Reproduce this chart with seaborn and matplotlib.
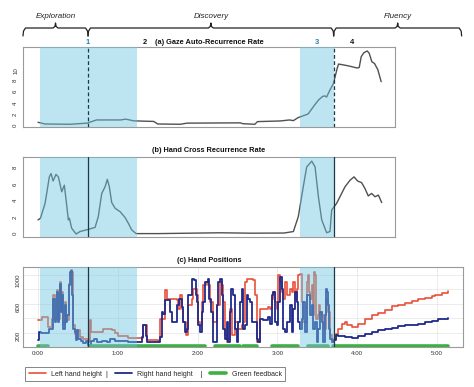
import matplotlib
matplotlib.use('Agg')
import matplotlib.pyplot as plt
import matplotlib.transforms as mtransforms
import seaborn as sns

sns.set_style('white')
plt.rcParams['font.family'] = ['Liberation Sans', 'DejaVu Sans']

# ---- data (time in seconds) ----
gaze_t = [0, 5.3, 24, 37, 40, 44, 62, 66, 72, 87, 90, 107, 112, 152, 154, 163, 165, 182, 189, 192,
          195.5, 203, 208, 211, 214, 215.5, 217, 219.5, 222, 225, 226, 233, 240, 241.5, 243, 245,
          247.5, 249, 251, 253, 255.5, 258]
gaze_rr = [0.65, 0.35, 0.3, 0.5, 0.75, 1.06, 1.06, 1.2, 0.9, 0.8, 0.35, 0.3, 0.5, 0.55, 0.4, 0.3, 0.77,
           0.88, 1.06, 0.94, 1.47, 2.1, 3.7, 4.6, 5.2, 5.3, 5.1, 6.35, 7.4, 10.2, 10.9, 10.6, 10.2,
           10.3, 12.2, 12.9, 13.2, 12.8, 11.3, 11.0, 9.9, 7.8]

cross_t = [0, 1.8, 5.3, 8.5, 9.8, 11.3, 13.5, 15.3, 17.8, 19.8, 21.1, 22.8, 23.6, 25.3, 28.6, 31.6,
           37.8, 42.9, 45.3, 47.9, 50.4, 52.1, 53.6, 55.4, 58, 61.7, 65.4, 67.9, 70.4, 73.7, 90, 137,
           160, 185, 192, 195.7, 199, 202, 205.8, 208.3, 210.8, 213.3, 217, 219.5, 220.8, 224.5,
           230.8, 234.6, 237.6, 240.3, 243.3, 245.8, 248.3, 250.8, 253.4, 255.9, 258.4]
cross_rr = [1.7, 1.9, 3.7, 6.9, 7.3, 6.4, 7.2, 6.9, 5.1, 5.9, 4.1, 1.7, 1.9, 0.7, 0.0, 0.3, 0.56, 0.8,
            2.1, 4.9, 5.7, 6.6, 5.7, 3.8, 3.1, 2.7, 2.0, 1.3, 0.5, 0.05, 0.05, 0.15, 0.1, 0.12, 0.3,
            2.1, 5.3, 8.1, 8.8, 8.1, 4.5, 1.7, 0.16, 0.3, 2.9, 3.7, 5.7, 6.5, 6.9, 6.4, 6.2, 5.5, 4.6,
            4.9, 4.5, 4.7, 3.8]

left_t = [0.25, 2, 2.8, 6.5, 7.3, 8.5, 10.3, 11.5, 12.5, 14, 14.8, 16.3, 17, 18, 19, 20, 21, 23, 24.6,
          25.6, 26.5, 28, 29.6, 31.6, 34, 36.6, 38.1, 39.1, 40.1, 47.9, 48.6, 55.4, 57.9, 60.4, 67.9,
          77.4, 79.2, 80.5, 81.8, 90.5, 91.7, 94.2, 95.5, 96.7, 104.3, 105.5, 106.8, 108, 109.3, 111,
          113, 115.5, 116.8, 119.3, 120.5, 121.8, 123, 124.3, 126, 128, 129.3, 131.8, 134.3, 136.8,
          138.1, 139.3, 140.6, 141.8, 143.1, 144.4, 145.6, 148.1, 150.6, 153.1, 154.4, 155.6, 156.9,
          161.9, 163.2, 164.4, 166.9, 173.2, 174.4, 175.7, 176.9, 178.2, 179.4, 180.7, 181.9, 183.2,
          184.5, 185.7, 187, 189.5, 190.7, 192, 193.2, 194.5, 195.7, 197, 198.2, 199.5, 202, 202.8,
          203.8, 204.8, 205.8, 207, 207.8, 208.5, 209.3, 210.3, 211.3, 212.3, 213.8, 214.8, 216.3,
          217.8, 219.3, 221.3, 222.8, 223.8, 225.8, 228.3, 230.8, 232, 235.8, 240.9, 245.9, 250.9,
          255.9, 260.9, 265.9, 270.9, 275.9, 280.9, 285.9, 290.9, 295.9, 298.4, 303.4, 307.9]
left_h = [371, 371, 417, 417, 278, 278, 394, 718, 394, 788, 394, 903, 532, 764, 301, 625, 371, 880,
          1066, 1042, 301, 185, 232, 139, 116, 106, 69, 371, 208, 208, 255, 232, 199, 153, 125, 125,
          301, 301, 93, 79, 394, 394, 788, 671, 648, 532, 718, 532, 347, 162, 579, 671, 810, 718, 347,
          301, 625, 857, 903, 857, 625, 347, 579, 903, 857, 625, 162, 69, 116, 532, 162, 347, 255, 301,
          347, 903, 949, 926, 718, 69, 532, 556, 532, 671, 764, 625, 532, 996, 903, 764, 671, 903, 718,
          810, 764, 903, 671, 810, 996, 1019, 625, 347, 903, 996, 764, 671, 857, 440, 1042, 996, 394,
          440, 579, 486, 440, 255, 671, 486, 162, 93, 116, 185, 255, 324, 347, 310, 278, 324, 394, 440,
          477, 519, 565, 588, 611, 635, 662, 681, 704, 727, 755, 774]

right_t = [0.25, 1, 2, 7.8, 8.5, 10.3, 11, 11.5, 12.5, 13.3, 14, 14.8, 15.5, 16.3, 17, 18, 19, 20, 21,
           22, 23, 24, 25, 25.8, 26.5, 27.5, 28.6, 29.3, 30.3, 32, 34, 36, 37.6, 39.6, 42, 44.6, 47.9,
           51.6, 54, 57.9, 62.9, 67.9, 76.7, 77.9, 79.2, 80.5, 81.2, 82.2, 90.5, 91.5, 93, 94.2, 95.5,
           98, 99.5, 101, 103, 104.3, 106, 108, 109.3, 110.5, 111.8, 112.5, 114.5, 116, 117.5, 118.5,
           119.5, 120.5, 121.8, 123, 124.3, 125.5, 127.5, 128.8, 130, 131.8, 133.1, 134.3, 135.6,
           136.8, 138.1, 139.3, 140.6, 141.8, 143.1, 144.4, 145.1, 146.9, 148.1, 149.4, 150.6, 151.9,
           153.1, 154.4, 155.6, 156.9, 158.2, 159.4, 160.7, 163.2, 164.4, 165.7, 166.9, 169.4, 173.2,
           174.4, 175.7, 176.9, 178.2, 179.4, 180.7, 181.9, 183.2, 184.5, 185.7, 187, 189.5, 190.7,
           192, 193.2, 194.5, 195.7, 197, 198.2, 199.5, 200.8, 202, 203.3, 204.5, 205.8, 207, 208.3,
           209.5, 210.8, 212, 213.3, 214.5, 215.8, 216.3, 217.3, 218.1, 218.8, 219.8, 221.3, 222.8,
           223.8, 225.8, 230.8, 235.8, 240.9, 245.9, 250.9, 255.9, 260.9, 265.9, 270.9, 275.9, 280.9,
           285.9, 290.9, 295.9, 300.9, 307.9]
right_h = [93, 208, 199, 199, 255, 255, 486, 671, 347, 394, 764, 347, 532, 880, 486, 718, 255, 579,
           347, 440, 857, 1042, 1051, 718, 255, 208, 93, 232, 116, 79, 60, 88, 32, 79, 106, 69, 88, 69,
           106, 79, 88, 69, 69, 139, 301, 301, 153, 69, 69, 139, 486, 463, 648, 648, 486, 347, 347, 579,
           671, 556, 347, 208, 255, 718, 718, 949, 926, 718, 625, 301, 208, 486, 625, 903, 949, 671,
           486, 69, 69, 579, 903, 949, 718, 255, 116, 347, 69, 486, 810, 718, 255, 69, 347, 625, 810,
           255, 301, 718, 671, 625, 347, 347, 116, 69, 394, 371, 417, 324, 718, 764, 347, 301, 625,
           973, 810, 255, 208, 347, 579, 208, 532, 764, 625, 347, 255, 394, 625, 208, 718, 718, 440,
           579, 255, 347, 69, 255, 486, 347, 69, 440, 810, 764, 579, 255, 116, 69, 93, 171, 153, 139,
           125, 153, 185, 208, 232, 255, 264, 287, 301, 310, 324, 347, 357, 384, 403]

feedback_start = [0, 38, 133, 154, 176, 203, 222]
feedback_end = [7.5, 125.5, 152, 165, 195.5, 218, 308]
feedback_level = 18

insight_spans = [(1.5, 74.4), (197, 222.5)]
phase_marks = [37.6, 222.3]
phase_names = ['Exploration', 'Discovery', 'Fluency']
phase_edges = [-11.3, 37.6, 222.3, 318.5]
event_labels = ['1', '2', '3', '4']
event_t = [37.6, 80.5, 209.8, 236]
event_colors = ['#2f7fa6', '#111111', '#2f7fa6', '#111111']

time_ticks = [0, 60, 120, 180, 240, 300]
time_labels = ['0:00', '1:00', '2:00', '3:00', '4:00', '5:00']

# ---- layout ----
W, H = 474, 387
fig = plt.figure(figsize=(W / 100, H / 100), dpi=100)
ax_a = fig.add_axes([23 / W, 1 - 127 / H, 372 / W, 80 / H])
ax_b = fig.add_axes([23 / W, 1 - 237 / H, 372 / W, 80 / H])
ax_c = fig.add_axes([23 / W, 1 - 347 / H, 440 / W, 80 / H])

shade = '#6ec6e0'
mark_col = '#1d3946'
line_col = '#505050'

sns.lineplot(x=gaze_t, y=gaze_rr, ax=ax_a, color=line_col, lw=1.0, estimator=None, sort=False)
sns.lineplot(x=cross_t, y=cross_rr, ax=ax_b, color=line_col, lw=1.0, estimator=None, sort=False)
sns.lineplot(x=left_t, y=left_h, ax=ax_c, color='#e8503a', lw=1.2, estimator=None, sort=False,
             drawstyle='steps-post', label='Left hand height  |')
sns.lineplot(x=right_t, y=right_h, ax=ax_c, color='#1f2a8c', lw=1.3, estimator=None, sort=False,
             drawstyle='steps-post', label='Right hand height    |')
for i, (s, e) in enumerate(zip(feedback_start, feedback_end)):
    sns.lineplot(x=[s, e], y=[feedback_level, feedback_level], ax=ax_c, color='#3cb043', lw=2.6,
                 estimator=None, sort=False, label='Green feedback' if i == 0 else None)

for ax in (ax_a, ax_b, ax_c):
    for s, e in insight_spans:
        ax.axvspan(s, e, color=shade, alpha=0.45, lw=0, zorder=5)
    for sp in ax.spines.values():
        sp.set_color('#9a9a9a')
        sp.set_linewidth(0.8)
    ax.set_xlabel('')
    ax.set_ylabel('')
    ax.tick_params(axis='both', labelsize=4.4, length=2, width=0.5, pad=1.5, colors='#333333')
    ax.tick_params(axis='y', labelrotation=90)

for m in phase_marks:
    ax_a.axvline(m, color=mark_col, lw=0.9, ls=(0, (3, 2)), zorder=6)
for ax in (ax_b, ax_c):
    for m in phase_marks:
        ax.axvline(m, color=mark_col, lw=0.9, zorder=6)

ax_a.set_xlim(-11.3, 268.4)
ax_b.set_xlim(-11.3, 268.4)
ax_c.set_xlim(-11.3, 319.5)
ax_a.set_ylim(-0.18, 13.9)
ax_b.set_ylim(-0.36, 9.3)
ax_c.set_ylim(0, 1112)

ax_a.set_yticks([0, 2, 4, 6, 8, 10, 12])
ax_a.set_yticklabels(['0', '2', '4', '6', '8', '10', ''])
ax_b.set_yticks([0, 2, 4, 6, 8])
for ax in (ax_a, ax_b):
    ax.set_xticks(time_ticks[:5])
    ax.set_xticklabels([])
ax_c.set_xticks(time_ticks)
ax_c.set_xticklabels(time_labels)
ax_c.tick_params(axis='x', length=0, pad=3)
ax_c.tick_params(axis='y', length=0)
ax_c.set_yticks([200, 400, 600, 800, 1000])
ax_c.set_yticklabels(['200', '', '600', '', '1000'])
ax_c.grid(True, color='#e4e4e4', lw=0.5)
ax_c.set_axisbelow(True)

# panel titles, centred on the upper panels
title_kw = dict(ha='center', va='center', fontsize=5.3, fontweight='bold', color='#111111')
fig.text((23 + 372 / 2) / W, 1 - 42 / H, '(a) Gaze Auto-Recurrence Rate', **title_kw)
fig.text((23 + 372 / 2) / W, 1 - 150 / H, '(b) Hand Cross Recurrence Rate', **title_kw)
fig.text((23 + 372 / 2) / W, 1 - 260 / H, '(c) Hand Positions', **title_kw)

# event numbers and phase braces (x in data time, y in figure coords)
trans = mtransforms.blended_transform_factory(ax_c.transData, fig.transFigure)
for lab, t, c in zip(event_labels, event_t, event_colors):
    ax_c.text(t, 1 - 42 / H, lab, transform=trans, ha='center', va='center', fontsize=5.4,
              fontweight='bold', color=c, clip_on=False)

px = 1 / 1.33
y_low, y_line, y_top = 1 - 36 / H, 1 - 28 / H, 1 - 23 / H
for name, x0, x1 in zip(phase_names, phase_edges[:-1], phase_edges[1:]):
    mid = (x0 + x1) / 2
    xs = [x0, x0 + 0.5 * px, x0 + 2.5 * px, mid - 2.5 * px, mid - 0.6 * px, mid,
          mid + 0.6 * px, mid + 2.5 * px, x1 - 2.5 * px, x1 - 0.5 * px, x1]
    ys = [y_low, y_line - 0.008, y_line, y_line, y_line + 0.004, y_top,
          y_line + 0.004, y_line, y_line, y_line - 0.008, y_low]
    ax_c.plot(xs, ys, transform=trans, color='#222222', lw=0.9, clip_on=False)
    ax_c.text(mid, 1 - 16 / H, name, transform=trans, ha='center', va='center', fontsize=5.8,
              style='italic', color='#222222', clip_on=False)

handles, labels = ax_c.get_legend_handles_labels()
ax_c.get_legend().remove()
leg = fig.legend(handles, labels, loc='center left', bbox_to_anchor=(22 / W, 1 - 374 / H), ncol=3,
                 fontsize=5, frameon=True, fancybox=False, edgecolor='#666666', handlelength=2.4,
                 columnspacing=1.0, handletextpad=0.8, borderpad=0.5)
leg.get_frame().set_linewidth(0.7)

fig.savefig('out.png', dpi=100)
